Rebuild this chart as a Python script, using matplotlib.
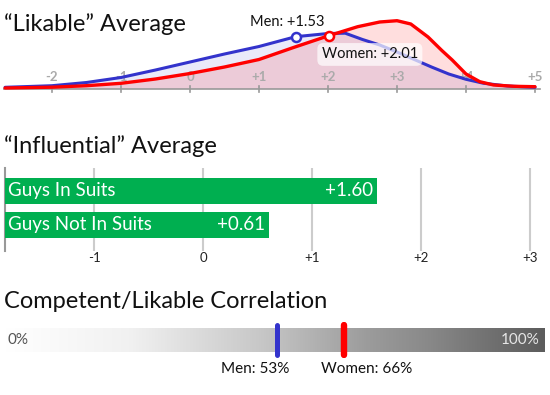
import matplotlib
matplotlib.use("Agg")
from matplotlib import pyplot as plt
from matplotlib.colors import LinearSegmentedColormap
import numpy as np

plt.rcParams['font.family'] = ['Lato', 'DejaVu Sans']

# "Likable" average distributions
men_x = [-2.68, -2.0, -1.5, -1.0, -0.5, 0.0, 0.5, 1.0, 1.53, 2.0, 2.25, 2.5,
         2.75, 3.0, 3.25, 3.5, 3.75, 4.0, 4.25, 4.6, 5.0]
men_y = [1.2, 2.8, 6.0, 11.0, 18.5, 26.5, 34.5, 42.0, 51.8, 55.0, 55.3, 49.0,
         43.5, 36.5, 29.0, 21.5, 14.5, 9.2, 5.3, 2.5, 1.2]
women_x = [-2.68, -2.0, -1.5, -1.0, -0.5, 0.0, 0.5, 1.0, 1.5, 2.01, 2.43, 2.75,
           3.0, 3.2, 3.45, 3.65, 3.8, 4.0, 4.2, 4.4, 4.7, 5.0]
women_y = [0.5, 1.3, 2.8, 5.2, 9.5, 15.0, 21.5, 29.0, 41.0, 52.8, 61.8, 66.5,
           67.8, 64.5, 51.5, 38.0, 28.5, 14.5, 6.8, 3.5, 2.2, 1.8]
men_avg = 1.53
women_avg = 2.01
likable_ticks = [-2, -1, 0, 1, 2, 3, 4, 5]

# "Influential" average
groups = ['Guys In Suits', 'Guys Not In Suits']
influential = [1.60, 0.61]
influential_ticks = [-1, 0, 1, 2, 3]

# Competent/likable correlation (%)
corr_men = 53
corr_women = 66

BLUE = '#3333cc'
RED = '#ff0000'
GREEN = '#00af50'

W, H = 550, 395
fig = plt.figure(figsize=(5.5, 3.95), dpi=100)


def box(x0, y0, x1, y1):
    # pixel box (top-left origin) -> figure fraction rect
    return [x0 / W, 1 - y1 / H, (x1 - x0) / W, (y1 - y0) / H]


# ---- titles
for txt, yb in [('\u201cLikable\u201d Average', 31),
                ('\u201cInfluential\u201d Average', 152.5),
                ('Competent/Likable Correlation', 308.5)]:
    fig.text(4 / W, 1 - yb / H, txt, fontsize=17, color='#111111',
             va='baseline', ha='left')

# ---- top: density curves
ax1 = fig.add_axes(box(3, 8, 545, 96))
ax1.set_xlim((3 - 190) / 69, (545 - 190) / 69)
ax1.set_ylim(-7.5, 80.5)
ax1.axis('off')

ax1.fill_between(men_x, 0, men_y, color=BLUE, alpha=0.1, lw=0, zorder=1)
ax1.fill_between(women_x, 0, women_y, color=RED, alpha=0.13, lw=0, zorder=1)
ax1.plot([-2.71, 5.07], [0, 0], color='#999999', lw=1.2, zorder=2)
for t in likable_ticks:
    ax1.plot([t, t], [3, -3.5], color='#999999', lw=1.2, zorder=2)
    ax1.text(t, 11.5, '%+d' % t if t != 0 else '0', ha='center', va='center',
             fontsize=9.5, fontweight='bold', color='#aaaaaa', zorder=2)
ax1.plot(men_x, men_y, color=BLUE, lw=2.2, zorder=3, solid_capstyle='round')
ax1.plot(women_x, women_y, color=RED, lw=2.4, zorder=4, solid_capstyle='round')

men_h = np.interp(men_avg, men_x, men_y)
women_h = np.interp(women_avg, women_x, women_y)
ax1.plot(men_avg, men_h, 'o', ms=6.5, mfc='white', mec=BLUE, mew=1.8, zorder=6)
ax1.plot(women_avg, women_h, 'o', ms=6.5, mfc='white', mec=RED, mew=1.8, zorder=6)
ax1.annotate('Men: %+.2f' % men_avg, (men_avg, men_h), xytext=(-6, 10.5),
             textcoords='offset points', ha='center', va='center',
             fontsize=10.5, color='#111111', zorder=7)
ax1.annotate('Women: %+.2f' % women_avg, (women_avg, women_h), xytext=(-5, -13.5),
             textcoords='offset points', ha='left', va='center',
             fontsize=10.5, color='#111111', zorder=7,
             bbox=dict(boxstyle='round,pad=0.3,rounding_size=0.4',
                       fc='white', ec='none', alpha=0.7))

# ---- middle: influential bars
ax2 = fig.add_axes(box(5, 168, 545, 251))
ax2.set_xlim((5 - 203) / 109, (545 - 203) / 109)
ax2.set_ylim(1.765, -0.676)
ypos = np.arange(len(groups))
xmin = ax2.get_xlim()[0]
ax2.barh(ypos, [v - xmin for v in influential], left=xmin,
         height=0.765, color=GREEN, zorder=3)
for t in influential_ticks:
    ax2.axvline(t, color='#cccccc', lw=1.5, zorder=1)
for y, name, v in zip(ypos, groups, influential):
    ax2.text(xmin + 0.025, y, name, ha='left', va='center',
             fontsize=13.5, color='white', zorder=4)
    ax2.annotate('%+.2f' % v, (v, y), xytext=(-3, 0), textcoords='offset points',
                 ha='right', va='center', fontsize=13.5, color='white', zorder=4)
for s in ['top', 'right', 'bottom']:
    ax2.spines[s].set_visible(False)
ax2.spines['left'].set_color('#999999')
ax2.spines['left'].set_linewidth(1.5)
ax2.set_yticks([])
ax2.set_xticks(influential_ticks)
ax2.set_xticklabels(['%+d' % t if t != 0 else '0' for t in influential_ticks])
ax2.tick_params(axis='x', length=0, pad=1, labelsize=9.5, labelcolor='#222222')

# ---- bottom: correlation gradient
ax3 = fig.add_axes(box(5, 322, 545, 358))
ax3.set_xlim((5 - 1) / 5.2, (545 - 1) / 5.2)
ax3.set_ylim(36, 0)
ax3.axis('off')
grey = LinearSegmentedColormap.from_list('grey', [
    (0.0, '#ffffff'), (0.23, '#f1f1f1'), (0.47, '#c8c8c8'),
    (0.67, '#9c9c9c'), (0.78, '#8a8a8a'), (1.0, '#5c5c5c')])
x0, x1 = ax3.get_xlim()
ax3.imshow(np.linspace(0, 1, 256).reshape(1, -1), cmap=grey, aspect='auto',
           extent=(x0, x1, 30, 6), zorder=1)
ax3.set_xlim(x0, x1)
ax3.set_ylim(36, 0)
ax3.text(x0 + 0.4, 18, '0%', ha='left', va='center', fontsize=11, color='#555555')
ax3.text(x1 - 1.0, 18, '100%', ha='right', va='center', fontsize=11, color='#e6e6e6')
ax3.plot([corr_men, corr_men], [2.5, 33], color=BLUE, lw=3.6, solid_capstyle='round', zorder=3)
ax3.plot([corr_women, corr_women], [2.5, 33], color=RED, lw=4.6, solid_capstyle='round', zorder=3)
ax3.annotate('Men: %d%%' % corr_men, (corr_men, 47), xytext=(-15.5, 0),
             textcoords='offset points', ha='center', va='center',
             fontsize=11, color='#111111', annotation_clip=False)
ax3.annotate('Women: %d%%' % corr_women, (corr_women, 47), xytext=(16, 0),
             textcoords='offset points', ha='center', va='center',
             fontsize=11, color='#111111', annotation_clip=False)

fig.savefig('out.png', dpi=100)
